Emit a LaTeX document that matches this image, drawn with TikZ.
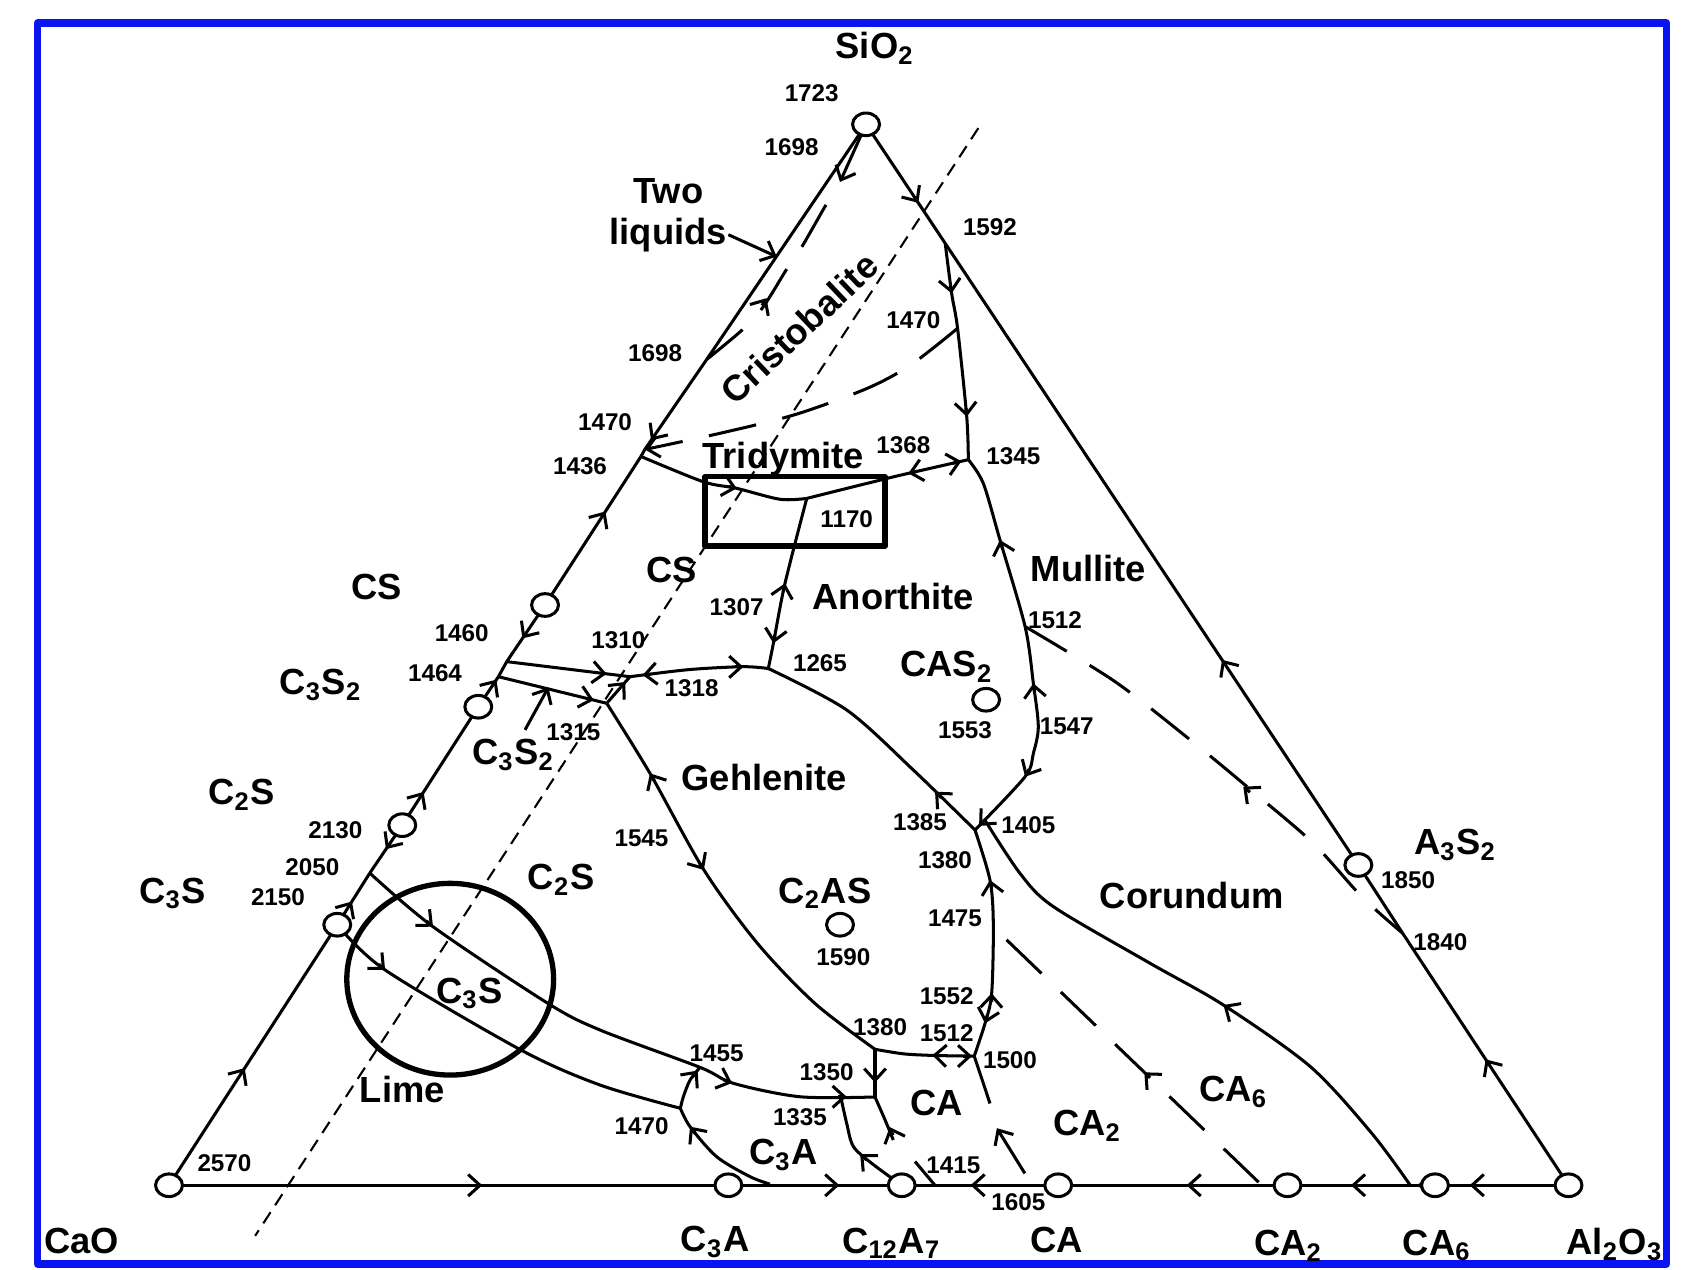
\documentclass[tikz,border=0pt]{standalone}
\usepackage{fontspec}
\setmainfont{Liberation Sans}
\usetikzlibrary{arrows.meta,decorations.markings,shapes.geometric}
\definecolor{Frame}{HTML}{0A14F0}
\tikzset{
  barb/.tip={Straight Barb[length=1.1mm,width=2mm]},
  pt/.style={ellipse, draw, fill=white, inner sep=0pt, minimum width=0.25cm, minimum height=0.21cm},
  lab/.style={font=\bfseries\fontsize{9.6}{11}\selectfont, inner sep=0pt},
  num/.style={font=\bfseries\fontsize{6.4}{7}\selectfont, inner sep=0pt},
  fwd/.style={postaction={decorate, decoration={markings, mark=at position #1 with {\arrow{barb}}}}},
  bwd/.style={postaction={decorate, decoration={markings, mark=at position #1 with {\arrowreversed{barb}}}}},
  ldash/.style={dash pattern=on 12.8pt off 7.1pt},
  sdash/.style={dash pattern=on 3.5pt off 2.2pt, line width=0.55pt}
}

\begin{document}
\begin{tikzpicture}[x=0.01cm, y=-0.01cm, line width=0.8pt, line join=round]
  \useasboundingbox (0,0) rectangle (1568,1179);
  \draw[Frame, line width=2pt] (35,21.5) rectangle (1548,1174);

  % compounds
  \coordinate (CaO) at (157,1101);
  \coordinate (C3A) at (676.6,1101);
  \coordinate (C12A7) at (837.6,1101);
  \coordinate (CA) at (983,1101);
  \coordinate (CA2) at (1196,1101);
  \coordinate (CA6) at (1333,1101);
  \coordinate (Al2O3) at (1457,1101);
  \coordinate (C3S) at (313.3,859);
  \coordinate (C2S) at (373.7,766.5);
  \coordinate (C3S2) at (444.3,656.5);
  \coordinate (CS) at (506.3,562);
  \coordinate (SiO2) at (804.5,115.5);
  \coordinate (A3S2) at (1261.8,803.5);
  \coordinate (CAS2) at (916,650);
  \coordinate (C2AS) at (780.3,859);

  % invariant points
  \coordinate (q1592) at (878,226);
  \coordinate (q1470r) at (889.5,305);
  \coordinate (q1345) at (899.5,427);
  \coordinate (q1470) at (599,417.5);
  \coordinate (q1436) at (595.4,424);
  \coordinate (q1698) at (656.4,334);
  \coordinate (q1698t) at (780.3,169);
  \coordinate (q2lt) at (721.5,238.4);
  \coordinate (q1170) at (749.4,463);
  \coordinate (q1265) at (713.7,621);
  \coordinate (q1310) at (585.2,628.6);
  \coordinate (q1315) at (563.6,653.3);
  \coordinate (q1460) at (470.7,614.6);
  \coordinate (q1464) at (463,628.6);
  \coordinate (q1385) at (905.7,771);
  \coordinate (q1405) at (915,762);
  \coordinate (q1512) at (952.2,582);
  \coordinate (q1840) at (1303,867);
  \coordinate (q1380) at (812.8,974.7);
  \coordinate (q1500) at (905,981);
  \coordinate (q1350) at (812.8,1019);
  \coordinate (q1335) at (781,1019);
  \coordinate (q1455) at (650.3,991.5);
  \coordinate (q1470b) at (632,1029.5);
  \coordinate (q2050) at (343.5,811);
  \coordinate (q1415) at (868.5,1101);
  \coordinate (q1415s) at (850,1079);
  \coordinate (q6) at (1310,1101);
  \coordinate (q3) at (715.3,1100);
  \coordinate (q1500e) at (919.6,1025);
  \coordinate (q1350e) at (829.8,1059);
  \coordinate (a1605s) at (952,1090);
  \coordinate (a1605e) at (926,1048);
  \coordinate (aC3S2s) at (487.7,678);
  \coordinate (aC3S2e) at (509.4,638.5);
  \coordinate (d1) at (908.8,119);
  \coordinate (d2) at (237,1148);
  \coordinate (e1) at (935,873);
  \coordinate (e2) at (1170,1099);

  % triangle sides
  \draw[fwd=0.45] (CaO) -- (C3S);
  \draw[fwd=0.45] (C3S) -- (q2050);
  \draw[fwd=0.5] (C2S) -- (q2050);
  \draw[fwd=0.28] (C2S) -- (C3S2);
  \draw[fwd=0.9] (C3S2) -- (q1464);
  \draw (q1464) -- (q1460);
  \draw[fwd=0.59] (CS) -- (q1460);
  \draw[fwd=0.63] (CS) -- (q1436);
  \draw (q1436) -- (q1470);
  \draw[fwd=0.9] (q1698) -- (q1470);
  \draw (q1698) -- (SiO2);
  \draw[fwd=0.66] (SiO2) -- (q1592);
  \draw[fwd=0.33] (A3S2) -- (q1592);
  \draw (A3S2) -- (q1840);
  \draw[fwd=0.5] (Al2O3) -- (q1840);
  \draw[fwd=0.56] (CaO) -- (C3A);
  \draw[fwd=0.64] (C3A) -- (C12A7);
  \draw[fwd=0.56] (CA) -- (C12A7);
  \draw[fwd=0.44] (CA2) -- (CA);
  \draw[fwd=0.12, fwd=0.57] (CA6) -- (CA2);
  \draw[fwd=0.74] (Al2O3) -- (CA6);

  % composition join
  \draw[sdash] (d1) -- (d2);

  % boundary curves
  \draw[-barb] (SiO2) -- (q1698t);
  \draw[ldash, dash phase=12.8pt] plot[smooth] coordinates {(q1698t) (768,189) (745,229) (732,248) (709,285) (690,306) (q1698)};
  \draw[ldash, -barb] plot[smooth] coordinates {(q1470r) (846,339) (805,361) (739,385) (671,402) (q1470)};
  \draw plot[smooth] coordinates {(q1592) (884,272.5) (q1470r) (898,387) (q1345)};
  \draw plot[smooth] coordinates {(q1436) (653.3,447.5) (684.3,453.6) (724.6,463.8) (q1170)};
  \draw plot[smooth] coordinates {(q1170) (817.5,446) (843.8,439.7) (q1345)};
  \draw plot[smooth] coordinates {(q1170) (729.2,541.9) (718.4,597.6) (q1265)};
  \draw plot[smooth] coordinates {(q1265) (690.5,619.3) (640,622) (q1310)};
  \draw[fwd=0.81] (q1460) -- (q1310);
  \draw[fwd=0.88] (q1464) -- (q1315);
  \draw[fwd=0.8] (q1315) -- (q1310);
  \draw[-barb] (aC3S2s) -- (aC3S2e);
  \draw plot[smooth] coordinates {(q1315) (603.8,718.4) (653.8,808) (703.6,876.3) (756.9,932) (q1380)};
  \draw plot[smooth] coordinates {(q1265) (786.5,659.5) (848.4,715.3) (q1385)};
  \draw plot[smooth] coordinates {(q1345) (913.4,449) (928.9,501.6) (q1512) (959.9,634.8) (964.5,675) (959.9,699.8) (952.2,721.5) (q1385)};
  \draw plot[smooth] coordinates {(q1385) (919.6,817.5) (922.7,857.7) (921.2,922.7) (915,950.6) (q1500)};
  \draw (q1500) -- (q1500e);
  \draw[-barb] (a1605s) -- (a1605e);
  \draw plot[smooth] coordinates {(q1380) (840,979) (870,980.5) (q1500)};
  \draw[fwd=0.7] (q1380) -- (q1350);
  \draw plot[smooth] coordinates {(q2050) (402.2,860.8) (508.9,932) (557.4,956.8) (q1455) (681.2,1006.3) (743.1,1018.8) (q1350)};
  \draw plot[smooth] coordinates {(q1350) (822,1040) (q1350e)};
  \draw plot[smooth] coordinates {(q1335) (786.5,1043.5) (792.7,1065) (809.7,1080.6) (C12A7)};
  \draw plot[smooth] coordinates {(C3S) (357.7,901) (484,975.4) (557.4,1007.9) (q1470b)};
  \draw plot[smooth] coordinates {(q1470b) (634.8,1018.7) (641,1003.3) (q1455)};
  \draw plot[smooth] coordinates {(q1470b) (641,1046.6) (665.7,1074.5) (696.7,1093) (q3)};
  \draw (q1415s) -- (q1415);
  \draw plot[smooth] coordinates {(q1405) (947.5,811.3) (978.5,842.2) (1068.3,894.8) (1136.5,933.6) (1217.3,990.9) (1274.3,1052.8) (q6)};
  \draw[ldash] plot[smooth] coordinates {(q1512) (1035.8,633.2) (1111.6,692.1) (1165.8,737) (1220,783.4) (1265,833) (q1840)};
  \draw[ldash, bwd=0.546] (e1) -- (e2);

  % flow arrows on the curved boundaries
  \draw[-barb] (707.8,283.8) -- (712,277);
  \draw[-barb] (882.8,264.6) -- (884,272.5);
  \draw[-barb] (897.3,379) -- (898,387);
  \draw[-barb] (676.5,451.8) -- (684.3,453.6);
  \draw[-barb] (851.6,437.9) -- (843.8,439.7);
  \draw[-barb] (885.2,430.3) -- (893,428.5);
  \draw[-barb] (727.4,549.7) -- (729.2,541.9);
  \draw[-barb] (719.9,589.8) -- (718.4,597.6);
  \draw[-barb] (682.5,619.5) -- (690.5,619.5);
  \draw[-barb] (605,626.2) -- (597,627);
  \draw[-barb] (607.8,725.3) -- (603.8,718.4);
  \draw[-barb] (649.5,801.2) -- (653.8,808);
  \draw[-barb] (874.3,741) -- (868.6,735.4);
  \draw[-barb] (931.1,509.3) -- (928.9,501.6);
  \draw[-barb] (960.9,642.7) -- (959.9,634.8);
  \draw[-barb] (956,714.5) -- (952.2,721.5);
  \draw[-barb] (915,761.5) -- (909.5,767.2);
  \draw[-barb] (921.1,825.3) -- (919.6,817.5);
  \draw[-barb] (921,930.7) -- (921.2,922.7);
  \draw[-barb] (917.1,942.9) -- (915,950.6);
  \draw[-barb] (874,980.6) -- (866,980.3);
  \draw[-barb] (895,981) -- (903,981);
  \draw[-barb] (396.2,855.5) -- (402.2,860.8);
  \draw[-barb] (672.5,1003.2) -- (680,1006);
  \draw[-barb] (778.5,1018.8) -- (786.5,1018.8);
  \draw[-barb] (829.5,1054.5) -- (826.5,1047);
  \draw[-barb] (805,1077.5) -- (799,1072);
  \draw[-barb] (351.8,895.6) -- (357.7,901);
  \draw[-barb] (643,1000.8) -- (648,994.5);
  \draw[-barb] (645.8,1053) -- (641,1046.6);
  \draw[-barb] (1143.2,937.9) -- (1136.5,933.6);
  \draw[-barb] (1161.1,735.9) -- (1154.9,730.8);

  % enlarged regions
  \node[draw, line width=1.4pt, minimum width=1.672cm, minimum height=0.644cm, inner sep=0pt] (zoombox) at (738.5,475) {};
  \node[draw, ellipse, line width=1.4pt, minimum width=1.92cm, minimum height=1.78cm, inner sep=0pt] (lens) at (418.2,909.6) {};

  % phase fields and compounds
  \node[lab] (lSiO2) at (812.8,45) {SiO\textsubscript{2}};
  \node[lab] (lTwo) at (620.8,178) {Two};
  \node[lab] (lLiq) at (620.8,218) {liquids};
  \node[lab, rotate=43.5] (lCris) at (742.5,305) {Cristobalite};
  \node[lab] (lTrid) at (727.7,426.7) {Tridymite};
  \node[lab] (lCSin) at (624,529.5) {CS};
  \node[lab] (lAnor) at (829.8,554.3) {Anorthite};
  \node[lab] (lMull) at (1011,528) {Mullite};
  \node[lab] (lCS) at (350,545) {CS};
  \node[lab] (lC3S2) at (298,636) {C\textsubscript{3}S\textsubscript{2}};
  \node[lab] (lCAS2) at (879.4,619.3) {CAS\textsubscript{2}};
  \node[lab] (lC3S2in) at (476.8,701.4) {C\textsubscript{3}S\textsubscript{2}};
  \node[lab] (lGehl) at (710,722) {Gehlenite};
  \node[lab] (lC2S) at (224.4,738.5) {C\textsubscript{2}S};
  \node[lab] (lA3S2) at (1352,785) {A\textsubscript{3}S\textsubscript{2}};
  \node[lab] (lC3S) at (160.4,829.8) {C\textsubscript{3}S};
  \node[lab] (lC2Sin) at (521.3,817.5) {C\textsubscript{2}S};
  \node[lab] (lC2AS) at (766.4,829.8) {C\textsubscript{2}AS};
  \node[lab] (lCor) at (1107,832) {Corundum};
  \node[lab] (lC3Sin) at (436,922.7) {C\textsubscript{3}S};
  \node[lab] (lLime) at (373.7,1012.5) {Lime};
  \node[lab] (lCAin) at (870.1,1024.9) {CA};
  \node[lab] (lCA6in) at (1146,1014) {CA\textsubscript{6}};
  \node[lab] (lCA2in) at (1010,1046) {CA\textsubscript{2}};
  \node[lab] (lC3Ain) at (727.7,1073) {C\textsubscript{3}A};
  \node[lab] (lCaO) at (76,1153) {CaO};
  \node[lab] (lC3A) at (664.2,1153.4) {C\textsubscript{3}A};
  \node[lab] (lC12A7) at (828.3,1155) {C\textsubscript{12}A\textsubscript{7}};
  \node[lab] (lCA) at (981.6,1151.9) {CA};
  \node[lab] (lCA2) at (1196.7,1157) {CA\textsubscript{2}};
  \node[lab] (lCA6) at (1335,1157) {CA\textsubscript{6}};
  \node[lab] (lAl2O3) at (1500,1156) {Al\textsubscript{2}O\textsubscript{3}};
  \draw[-barb] (lLiq.east) -- (q2lt);

  % temperatures
  \node[num] (t1723) at (754,86.7) {1723};
  \node[num] (t1698a) at (735.4,136.3) {1698};
  \node[num] (t1592) at (919.6,210.6) {1592};
  \node[num] (t1470a) at (848.4,297.3) {1470};
  \node[num] (t1698b) at (608.5,328.2) {1698};
  \node[num] (t1470b) at (562,391.7) {1470};
  \node[num] (t1436) at (538.8,433.5) {1436};
  \node[num] (t1368) at (839.1,413.4) {1368};
  \node[num] (t1345) at (941.3,424.2) {1345};
  \node[num] (t1170) at (786.5,482.1) {1170};
  \node[num] (t1307) at (684.3,563.6) {1307};
  \node[num] (t1512a) at (980,576) {1512};
  \node[num] (t1460) at (428.9,588.3) {1460};
  \node[num] (t1310) at (574.4,594.5) {1310};
  \node[num] (t1464) at (404.1,624.9) {1464};
  \node[num] (t1265) at (761.7,615.6) {1265};
  \node[num] (t1318) at (642.5,639.4) {1318};
  \node[num] (t1553) at (896.4,678.1) {1553};
  \node[num] (t1547) at (990.9,675) {1547};
  \node[num] (t1315) at (532.6,679.7) {1315};
  \node[num] (t2130) at (311.6,771) {2130};
  \node[num] (t1545) at (595.9,778.7) {1545};
  \node[num] (t1385) at (854.6,763.3) {1385};
  \node[num] (t1405) at (955.2,766.4) {1405};
  \node[num] (t2050) at (290.2,805.1) {2050};
  \node[num] (t1380a) at (877.8,798.9) {1380};
  \node[num] (t2150) at (258.2,833) {2150};
  \node[num] (t1850) at (1308,818) {1850};
  \node[num] (t1475) at (887.1,853.1) {1475};
  \node[num] (t1590) at (783.4,888.7) {1590};
  \node[num] (t1840) at (1338,875) {1840};
  \node[num] (t1552) at (879.4,925.8) {1552};
  \node[num] (t1380b) at (817.5,953.7) {1380};
  \node[num] (t1512b) at (879.4,959.9) {1512};
  \node[num] (t1455) at (665.7,978.5) {1455};
  \node[num] (t1500) at (938.2,984.7) {1500};
  \node[num] (t1350) at (767.9,995.5) {1350};
  \node[num] (t1335) at (743.1,1037.3) {1335};
  \node[num] (t1470c) at (596,1046) {1470};
  \node[num] (t1415) at (885.6,1082.2) {1415};
  \node[num] (t2570) at (208.5,1080.6) {2570};
  \node[num] (t1605) at (946,1116.3) {1605};

  % melting points of compounds
  \node[pt] (oCaO) at (CaO) {};
  \node[pt] (oC3A) at (C3A) {};
  \node[pt] (oC12A7) at (C12A7) {};
  \node[pt] (oCA) at (CA) {};
  \node[pt] (oCA2) at (CA2) {};
  \node[pt] (oCA6) at (CA6) {};
  \node[pt] (oAl2O3) at (Al2O3) {};
  \node[pt] (oC3S) at (C3S) {};
  \node[pt] (oC2S) at (C2S) {};
  \node[pt] (oC3S2) at (C3S2) {};
  \node[pt] (oCS) at (CS) {};
  \node[pt] (oSiO2) at (SiO2) {};
  \node[pt] (oA3S2) at (A3S2) {};
  \node[pt] (oCAS2) at (CAS2) {};
  \node[pt] (oC2AS) at (C2AS) {};
\end{tikzpicture}
\end{document}
